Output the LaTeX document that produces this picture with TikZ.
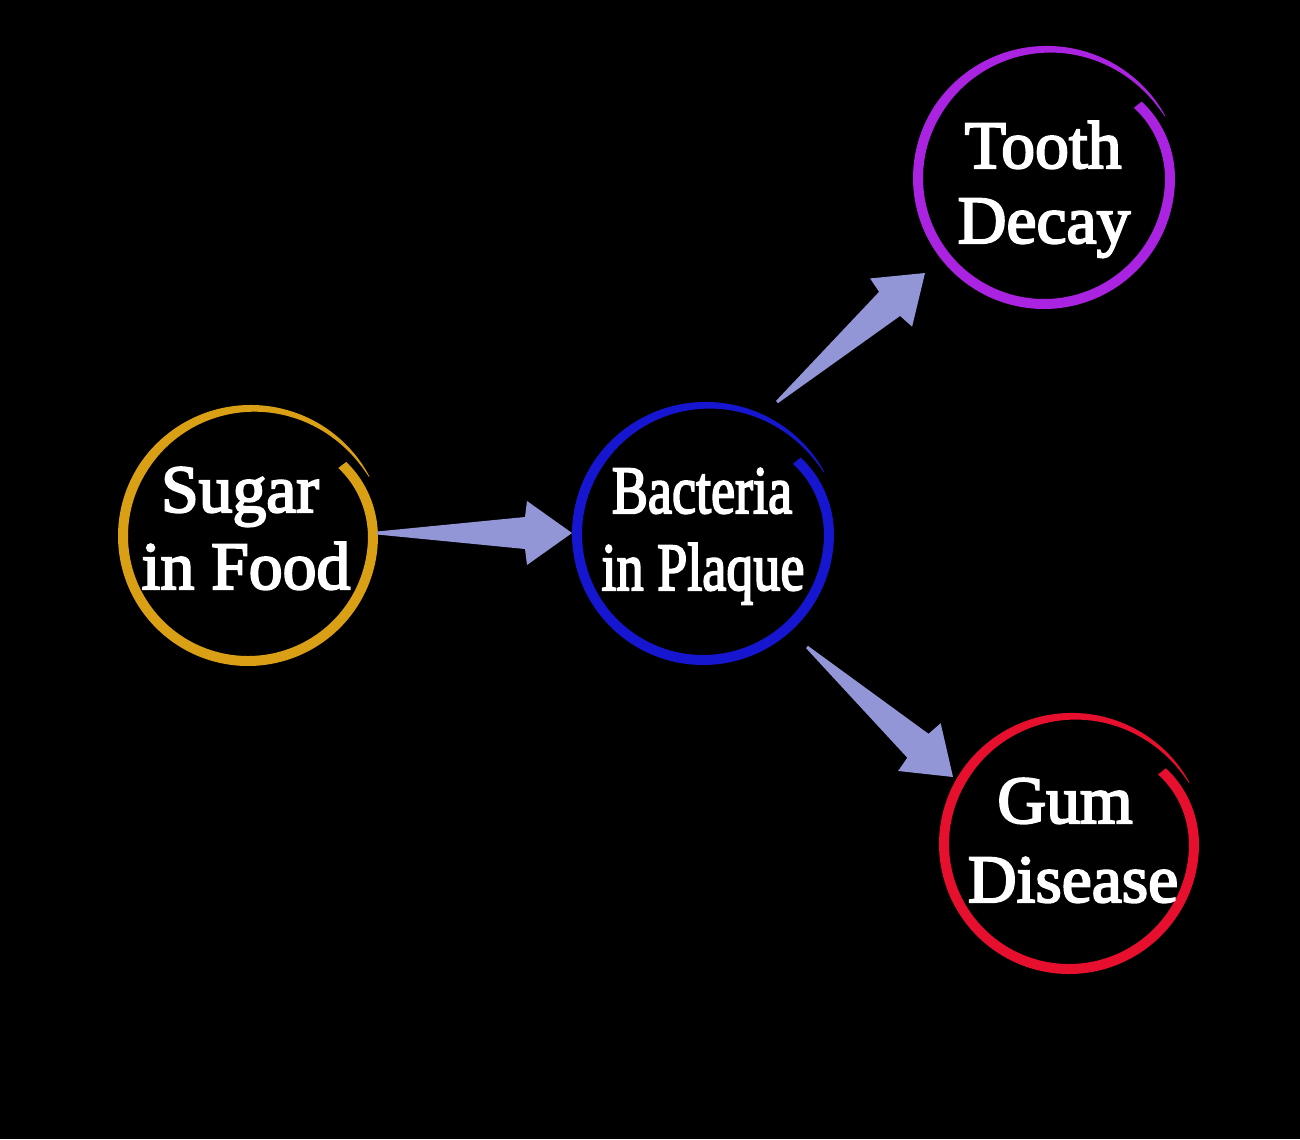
\documentclass[tikz,border=0pt]{standalone}
\usepackage{fontspec}
\usetikzlibrary{calc}
\newfontfamily\lblfont{Liberation Serif}[FakeBold=3]
\definecolor{goldring}{RGB}{218,160,21}
\definecolor{bluering}{RGB}{22,22,208}
\definecolor{purplering}{RGB}{170,35,225}
\definecolor{redring}{RGB}{230,15,45}
\definecolor{arrowcol}{RGB}{146,150,214}
\tikzset{
  declare function={
    rr(\s,\R)=\R-7*max(0,1-\s/40)*max(0,1-\s/40)+10*max(0,(\s-240)/132)*max(0,(\s-240)/132);
    ww(\s)=10*pow(min(1,(372-\s)/122),0.6);
  },
  arrowfill/.style={fill=arrowcol},
  lbl/.style={text=white,inner sep=0pt,anchor=base,font=\lblfont\fontsize{38.5}{43}\selectfont},
  ringnode/.style={circle,draw=none,minimum size=5.2cm,inner sep=0pt}
}
% #1 cx, #2 cy, #3 R, #4 start angle, #5 colour
\newcommand\brushring[5]{%
  \fill[#5] plot[domain=0:371,samples=220]
      ({#1+(rr(\x,#3)+ww(\x)/2)*cos(#4-\x)},{#2-(rr(\x,#3)+ww(\x)/2)*sin(#4-\x)})
    -- plot[domain=371:0,samples=220]
      ({#1+(rr(\x,#3)-ww(\x)/2)*cos(#4-\x)},{#2-(rr(\x,#3)-ww(\x)/2)*sin(#4-\x)})
    -- cycle;}
\newcommand\fatarrow[2]{%
  \fill[arrowfill] ($(#1)!0.03cm!90:(#2)$)
    -- ($(#2)!0.94cm!(#1)!0.32cm!-90:(#1)$)
    -- ($(#2)!0.90cm!(#1)!0.64cm!-90:(#1)$)
    -- (#2)
    -- ($(#2)!0.90cm!(#1)!0.64cm!90:(#1)$)
    -- ($(#2)!0.94cm!(#1)!0.32cm!90:(#1)$)
    -- ($(#1)!0.03cm!-90:(#2)$) -- cycle;}
\begin{document}
\begin{tikzpicture}[x=0.02cm,y=-0.02cm]
\fill[black] (0,0) rectangle (1300,1139);
\useasboundingbox (0,0) rectangle (1300,1139);

% ring nodes (invisible, for naming)
\node[ringnode] (sugar) at (248,536) {};
\node[ringnode] (bacteria) at (703,534) {};
\node[ringnode] (tooth) at (1044,178) {};
\node[ringnode] (gum) at (1069,844) {};

\brushring{248}{536}{125}{37}{goldring}
\brushring{703}{534}{126}{38}{bluering}
\brushring{1044}{178}{126}{38}{purplering}
\brushring{1069}{844}{125}{38}{redring}

% labels
\node[lbl] (sugar1) at (240,512) {Sugar};
\node[lbl] (sugar2) at (246,589) {in Food};
\node[lbl] (bact1) at (702,513) {\scalebox{0.8}[1]{Bacteria}};
\node[lbl] (bact2) at (703,590) {\scalebox{0.8}[1]{in Plaque}};
\node[lbl] (tooth1) at (1043,168) {Tooth};
\node[lbl] (tooth2) at (1044,243) {Decay};
\node[lbl] (gum1) at (1065,823) {Gum};
\node[lbl] (gum2) at (1073,902) {Disease};

% connector end points
\coordinate (a1s) at (377,533);
\coordinate (a1e) at (572,533);
\coordinate (a2s) at (777,402);
\coordinate (a2e) at (925,273);
\coordinate (a3s) at (807,647);
\coordinate (a3e) at (953,777);

\fatarrow{a1s}{a1e}
\fatarrow{a2s}{a2e}
\fatarrow{a3s}{a3e}
\end{tikzpicture}
\end{document}
